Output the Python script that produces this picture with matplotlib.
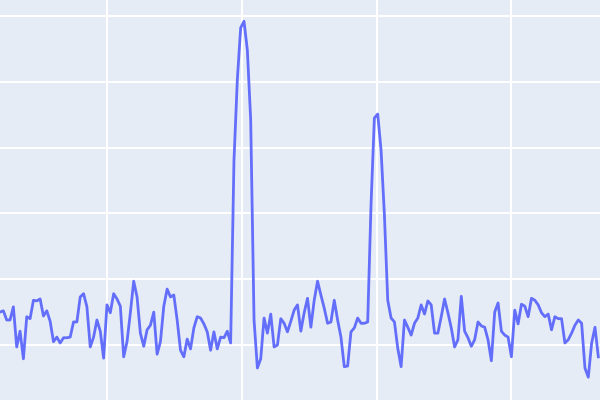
import numpy as np
import matplotlib
matplotlib.use("Agg")
import matplotlib.pyplot as plt

# signal values, one per sample
signal = [
    0.50, 0.52, 0.38, 0.38, 0.58, -0.03, 0.21, -0.21, 0.43, 0.40,
    0.68, 0.67, 0.70, 0.44, 0.52, 0.36, 0.05, 0.12, 0.03, 0.11,
    0.11, 0.12, 0.35, 0.35, 0.73, 0.78, 0.58, -0.03, 0.12, 0.38,
    0.21, -0.20, 0.61, 0.49, 0.78, 0.70, 0.59, -0.18, 0.05, 0.49,
    0.97, 0.73, 0.18, -0.02, 0.23, 0.30, 0.50, -0.14, 0.05, 0.59,
    0.85, 0.73, 0.76, 0.38, -0.08, -0.18, 0.09, -0.06, 0.26, 0.43,
    0.41, 0.32, 0.20, -0.08, 0.20, -0.06, 0.12, 0.11, 0.21, 0.03,
    2.81, 4.03, 4.82, 4.92, 4.48, 3.42, 0.38, -0.35, -0.21, 0.41,
    0.18, 0.47, -0.03, 0.00, 0.40, 0.33, 0.20, 0.36, 0.53, 0.61,
    0.21, 0.49, 0.71, 0.27, 0.68, 0.97, 0.76, 0.56, 0.33, 0.35,
    0.68, 0.38, 0.12, -0.33, -0.32, 0.20, 0.26, 0.41, 0.33, 0.33,
    0.35, 2.13, 3.45, 3.51, 2.96, 1.98, 0.68, 0.41, 0.35, -0.05,
    -0.33, 0.38, 0.27, 0.15, 0.33, 0.41, 0.61, 0.47, 0.67, 0.61,
    0.18, 0.18, 0.43, 0.70, 0.49, 0.26, -0.03, 0.08, 0.74, 0.21,
    0.11, -0.02, 0.08, 0.35, 0.29, 0.27, 0.08, -0.24, 0.50, 0.64,
    0.21, 0.15, 0.12, -0.18, 0.53, 0.32, 0.62, 0.59, 0.43, 0.71,
    0.68, 0.61, 0.49, 0.43, 0.47, 0.23, 0.43, 0.40, 0.40, 0.03,
    0.08, 0.18, 0.30, 0.38, 0.33, -0.35, -0.49, 0.03, 0.27, -0.18,
]
samples = np.arange(len(signal))

x_grid = [32.1, 72.4, 112.7, 153.0]
y_grid = [0, 1, 2, 3, 4, 5]

fig = plt.figure(figsize=(6, 4), dpi=100)
ax = fig.add_axes([0, 0, 1, 1])
ax.set_facecolor('#E5ECF6')
fig.patch.set_facecolor('#E5ECF6')

ax.plot(samples, signal, color='#636EFA', linewidth=2.0, zorder=3)

ax.set_xlim(0, 179.5)
ax.set_ylim(-0.836, 5.243)
ax.set_xticks(x_grid)
ax.set_yticks(y_grid)
ax.grid(True, color='white', linewidth=1.5, zorder=0)
ax.tick_params(length=0, labelbottom=False, labelleft=False)
for s in ax.spines.values():
    s.set_visible(False)
ax.set_axisbelow(True)

plt.savefig('out.png', dpi=100, facecolor=fig.get_facecolor())
plt.close()
